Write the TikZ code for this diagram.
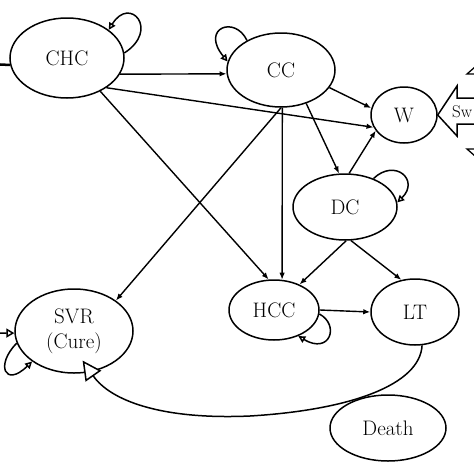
\documentclass[tikz,border=0pt]{standalone}
\usetikzlibrary{shapes.geometric,arrows.meta}
\begin{document}
\begin{tikzpicture}[x=1pt,y=-1pt,
  state/.style={ellipse,draw,line width=1.5pt,inner sep=0pt,font=\fontsize{21}{25}\selectfont,align=center},
  conn/.style={line width=1.4pt,-{Latex[length=7pt,width=5.5pt]}},
  selfloop/.style={line width=1.5pt,-{Triangle[length=7pt,width=7pt,fill=white]}},
  bigarrow/.style={line width=1.5pt,-{Triangle[length=19pt,width=19pt,fill=white]}},
  txt/.style={font=\fontsize{17}{20}\selectfont,inner sep=0pt}
]
\useasboundingbox (0,0) rectangle (474,474);
\clip (0,0) rectangle (474,474);
\fill[white] (0,0) rectangle (474,474);

\node[state,minimum width=114pt,minimum height=80pt] (CHC) at (67,58) {CHC};
\node[state,minimum width=108pt,minimum height=74pt] (CC) at (281,70) {CC};
\node[state,minimum width=66pt,minimum height=56pt] (W) at (404,115) {W};
\node[state,minimum width=104pt,minimum height=66pt] (DC) at (345,207) {DC};
\node[state,minimum width=90pt,minimum height=60pt] (HCC) at (274,310) {HCC};
\node[state,minimum width=88pt,minimum height=66pt] (LT) at (415,312) {LT};
\node[state,minimum width=116pt,minimum height=66pt] (Death) at (388,428) {Death};
\node[state,minimum width=118pt,minimum height=84pt] (SVR) at (74,331) {SVR\\(Cure)};

% transitions
\draw[conn] (CHC.-17) -- (CC.184);
\draw[conn] (CHC.-37) -- (W.202);
\draw[conn] (CHC.-45) -- (HCC.100);
\draw[conn] (CC.-90) -- (SVR.36);
\draw[conn] (CC.-88) -- (HCC.75);
\draw[conn] (CC.-20) -- (W.168);
\draw[conn] (CC.-53) -- (DC.100);
\draw[conn] (DC.83) -- (W.209);
\draw[conn] (DC.-88) -- (HCC.45);
\draw[conn] (DC.-80) -- (LT.113);
\draw[conn] (HCC.east) -- (LT.west);

% LT back to SVR
\draw[bigarrow,shorten >=-14pt] (LT.-78) .. controls (420,385) and (350,410) .. (250,416)
  .. controls (160,420) and (110,400) .. (SVR.-68);

% self loops
\draw[selfloop] (CHC.5) .. controls (160,30) and (130,-5) .. (CHC.34);
\draw[selfloop] (CC.139) .. controls (235,15) and (200,28) .. (CC.171);
\draw[selfloop] (DC.45) .. controls (395,158) and (420,180) .. (DC.5);
\draw[selfloop] (HCC.-5) .. controls (340,325) and (330,355) .. (HCC.-47);
\draw[selfloop] (SVR.192) .. controls (-5,365) and (5,388) .. (SVR.216);

% incoming from the left edge
\coordinate (offL1) at (-10,64);
\coordinate (offL2) at (-10,333);
\draw[line width=2.5pt] (offL1) -- (CHC.187);
\draw[line width=1.5pt,-{Triangle[length=8pt,width=9pt,fill=white]}] (offL2) -- (SVR.182);

% switch arrow on the right
\draw[line width=1.5pt,fill=white] (W.east) -- (457,86) -- (457,98) -- (480,98) -- (480,124)
  -- (457,124) -- (457,136) -- cycle;
\node[txt,anchor=west] (sw) at (452,112) {Sw};

% cut-off arrowheads at the right edge
\draw[line width=1.3pt] (467,74) -- (475,67) -- (475,74) -- cycle;
\draw[line width=1.3pt] (467,149) -- (475,149) -- (475,156) -- cycle;
\end{tikzpicture}
\end{document}
